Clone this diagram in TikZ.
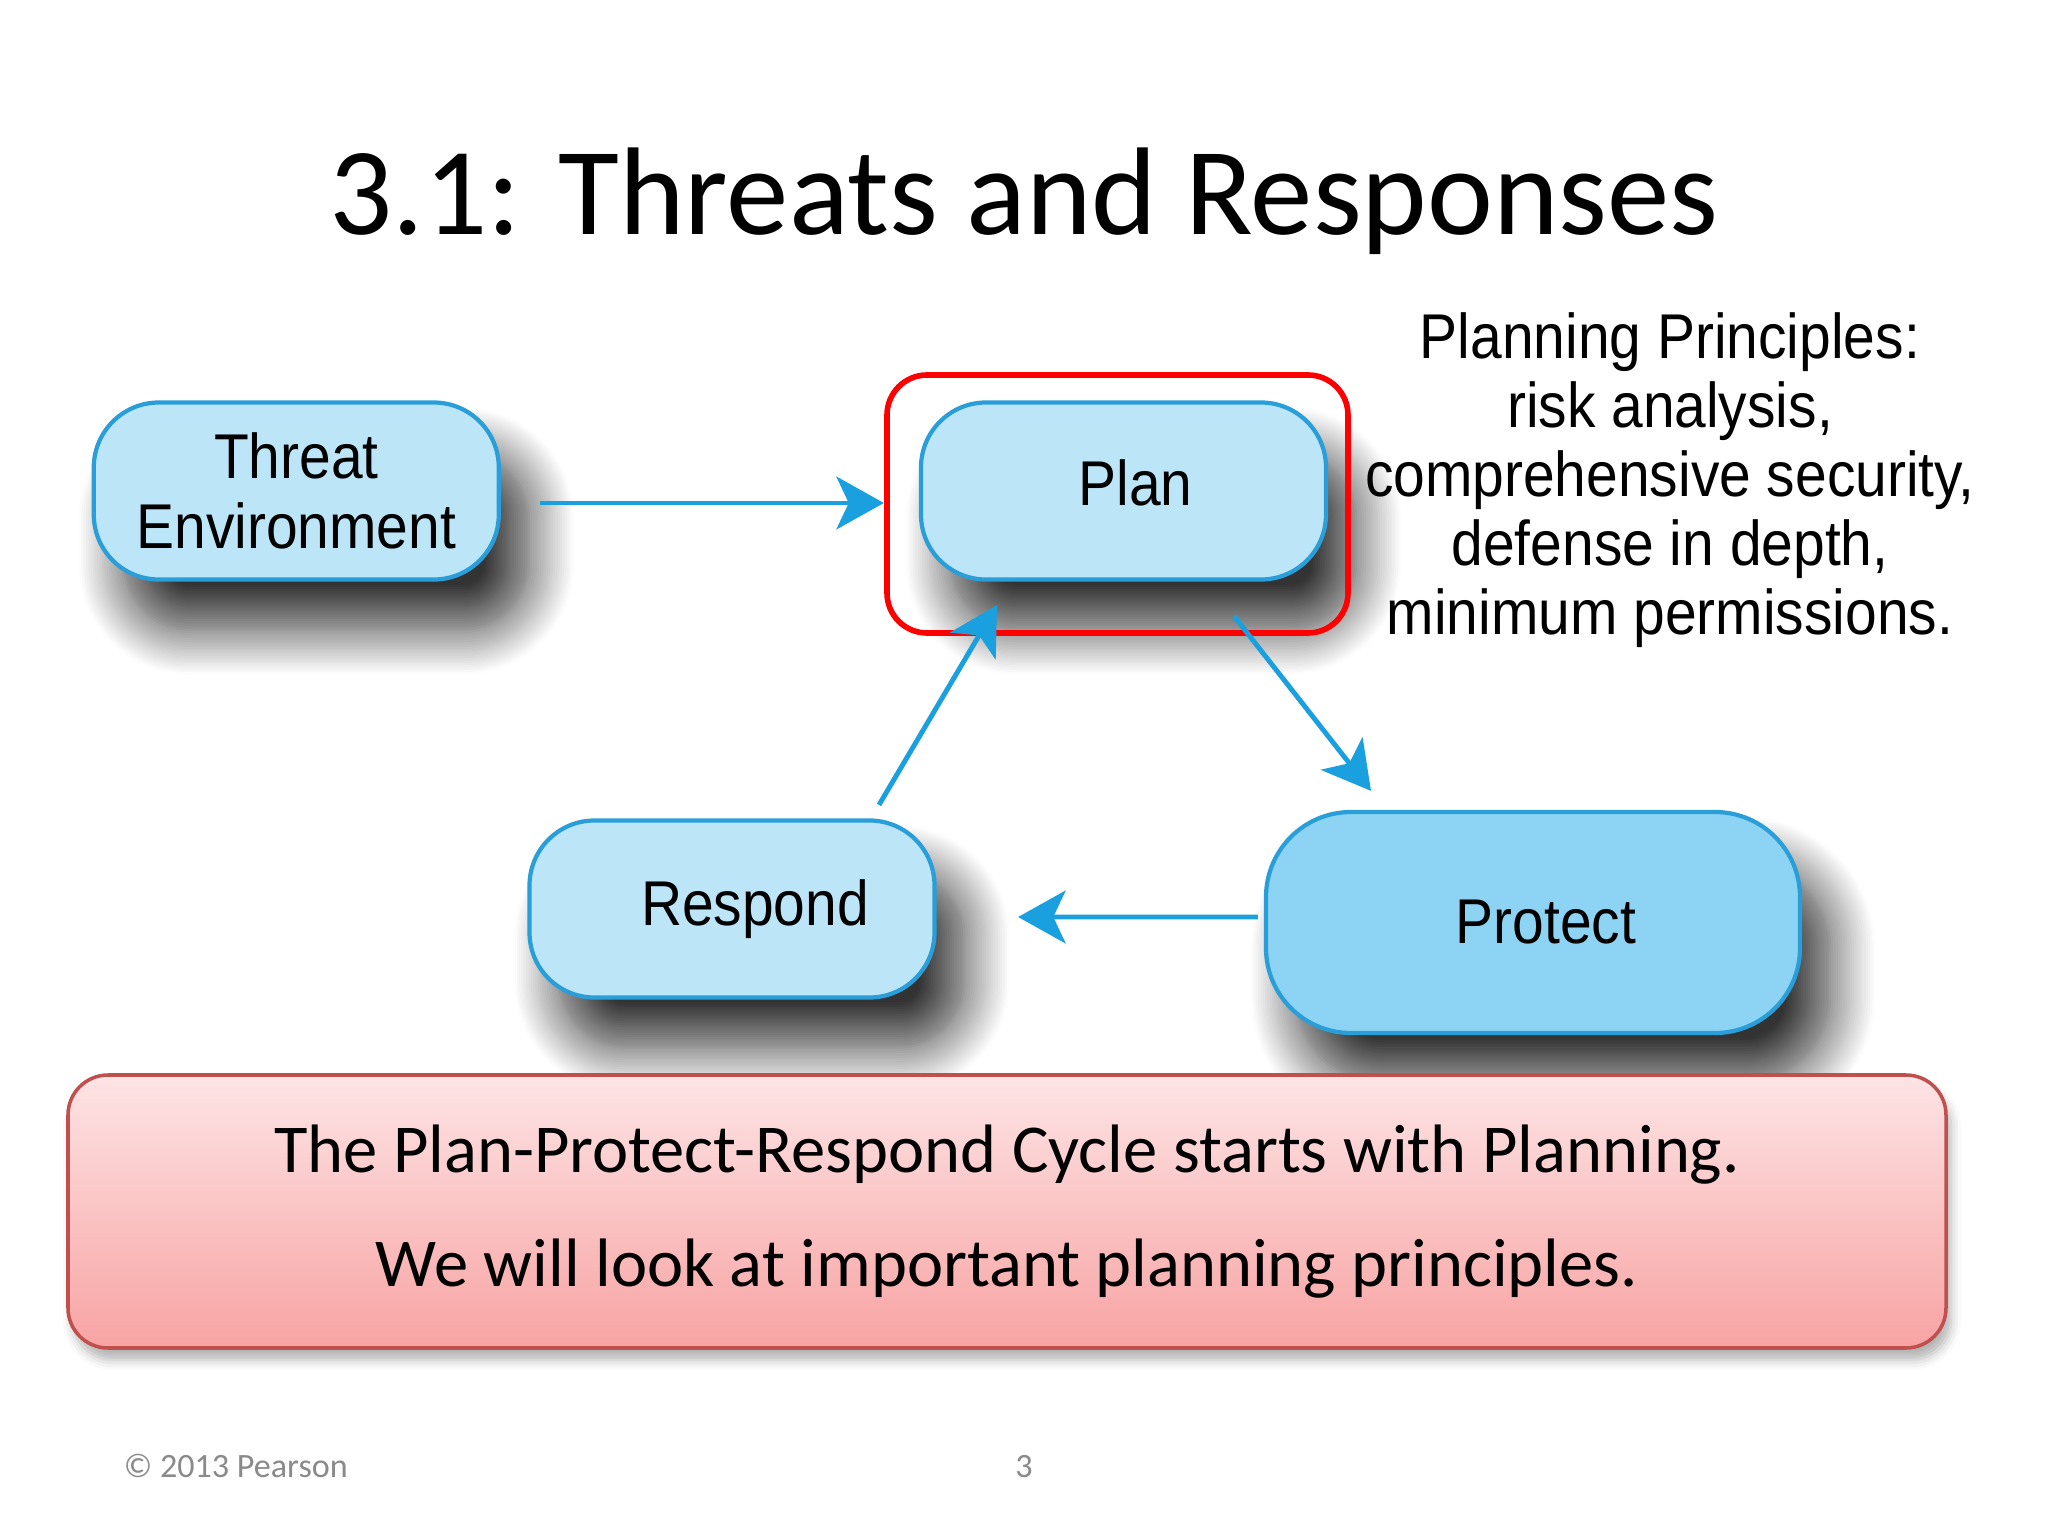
\documentclass[tikz,border=0pt]{standalone}
\usepackage{fontspec}
\setmainfont{Carlito}
\newfontfamily\figfont[FakeStretch=0.9]{Liberation Sans}
\usetikzlibrary{positioning, arrows.meta, shadows.blur}

\definecolor{boxblue}{HTML}{BDE5F8}
\definecolor{deepblue}{HTML}{8DD4F4}
\definecolor{edgeblue}{HTML}{2A9ED8}
\definecolor{arrowblue}{HTML}{1AA0DE}
\definecolor{pinktop}{HTML}{FDE4E5}
\definecolor{pinkbot}{HTML}{F8A3A3}
\definecolor{pinkedge}{HTML}{C0504D}
\definecolor{footgray}{HTML}{8A8A8A}

\begin{document}
\begin{tikzpicture}[
    box/.style={draw=edgeblue, fill=boxblue, line width=1.2pt, rounded corners=0.65cm, minimum width=4.05cm, minimum height=1.77cm, align=center, font=\figfont\fontsize{18}{20}\selectfont, blur shadow={shadow xshift=0.3cm, shadow yshift=-0.5cm, shadow blur radius=0.45cm, shadow blur steps=20, shadow opacity=80}},
    arrow/.style={-{Stealth[length=13.5pt, width=15pt, inset=3.5pt]}, draw=arrowblue, line width=1.4pt}
]
\useasboundingbox (0,0) rectangle (20.48,-15.36);

\node[anchor=base, font=\fontsize{35.5}{42}\selectfont] (TITLE) at (10.24,-2.35) {3.1: Threats and Responses};

% the cycle
\node[box] (PLAN) at (11.235,-4.91) {\hspace*{0.24cm}\raisebox{0.16cm}{Plan}};
\node[box] (TE) [left=4.18cm of PLAN] {Threat\\Environment};
\node[box] (RESP) at (7.32,-9.09) {\hspace*{0.46cm}Respond};
\node[box, fill=deepblue, minimum width=5.34cm, minimum height=2.21cm, rounded corners=0.85cm] (PROT) at (15.33,-9.225) {\hspace*{0.26cm}Protect};

\node[draw=red, line width=1.6pt, rounded corners=0.4cm, minimum width=4.61cm, minimum height=2.58cm] (FOCUS) at (11.175,-5.04) {};

\node[align=center, font=\figfont\fontsize{18}{19.6}\selectfont] (PRIN) at (16.70,-4.80) {Planning Principles:\\risk analysis,\\comprehensive security,\\defense in depth,\\minimum permissions.};

\draw[arrow] ([shift={(0.39,-0.12)}]TE.east) -- ([shift={(-0.35,-0.12)}]PLAN.west);
\draw[arrow] ([shift={(1.105,-0.345)}]PLAN.south) -- ([shift={(-1.62,0.19)}]PROT.north);
\draw[arrow] ([shift={(-0.06,0.055)}]PROT.west) -- ([shift={(0.815,-0.08)}]RESP.east);
\draw[arrow] ([shift={(1.47,0.135)}]RESP.north) -- ([shift={(-1.265,-0.235)}]PLAN.south);

% summary box
\node[draw=pinkedge, line width=1pt, rounded corners=0.4cm, top color=pinktop, bottom color=pinkbot, minimum width=18.78cm, minimum height=2.73cm, align=center, font=\fontsize{19.5}{32.6}\selectfont, blur shadow={shadow xshift=0.05cm, shadow yshift=-0.12cm, shadow blur radius=0.1cm, shadow opacity=30}] (MSG) at (10.07,-12.115) {The Plan-Protect-Respond Cycle starts with Planning.\\We will look at important planning principles.};

\node[anchor=base west, text=footgray, font=\fontsize{9.7}{12}\selectfont] (COPY) at (1.115,-14.77) {© 2013 Pearson};
\node[anchor=base, text=footgray, font=\fontsize{9.7}{12}\selectfont] (PAGE) at (10.24,-14.77) {3};

\end{tikzpicture}
\end{document}
